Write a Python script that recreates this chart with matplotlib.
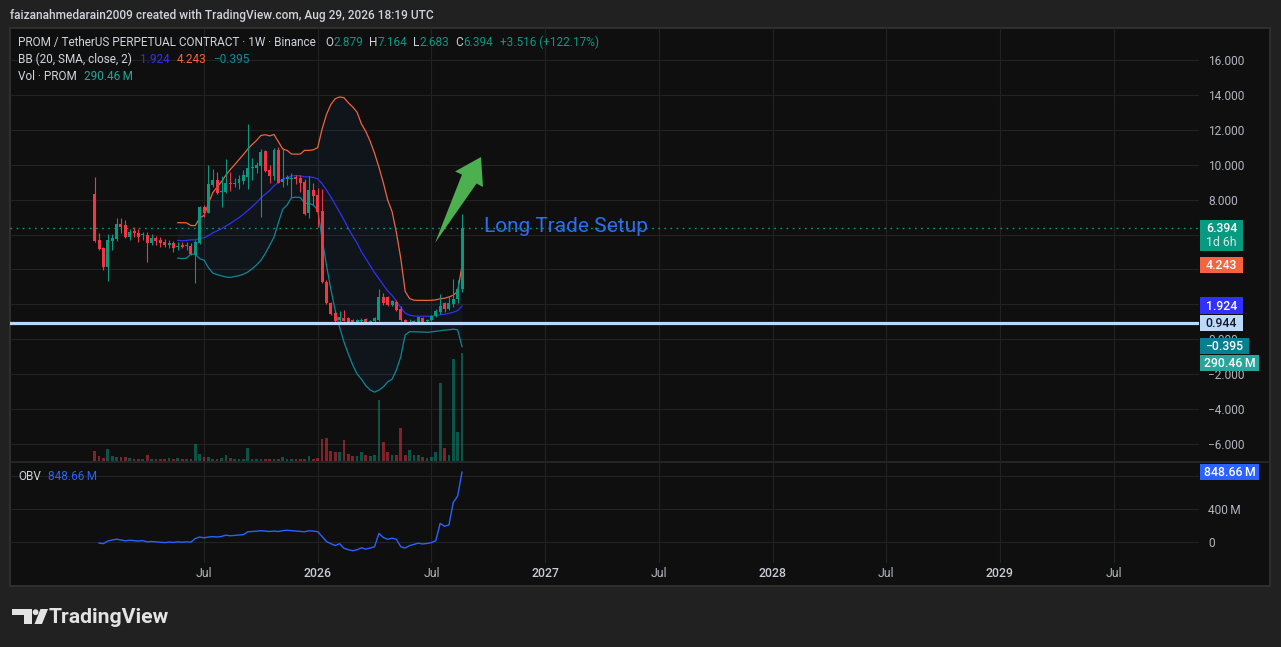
import numpy as np
import pandas as pd
import matplotlib
matplotlib.use("Agg")
import matplotlib.pyplot as plt
from matplotlib.patches import Rectangle, Polygon, Circle
from matplotlib.ticker import FuncFormatter

# ---------------- data (weekly bars, PROM/USDT perp, from 2025-01-13) ----------------
opens = [8.32, 5.68, 5.25, 4.16, 5.64, 5.76, 6.60, 6.54, 5.88, 6.18,
         6.07, 5.95, 5.97, 5.53, 5.82, 5.70, 5.57, 5.40, 5.53, 5.28,
         5.38, 5.32, 5.36, 4.83, 5.49, 7.59, 7.25, 8.83, 9.12, 8.44,
         8.46, 8.95, 8.90, 8.94, 9.08, 9.31, 9.83, 9.83, 9.93, 10.77,
         9.70, 9.35, 10.84, 9.03, 9.16, 9.16, 9.28, 9.22, 9.01, 7.21,
         8.55, 8.26, 7.35, 3.30, 2.09, 1.52, 1.10, 1.20, 1.24, 1.10,
         0.97, 1.05, 1.14, 0.91, 1.04, 1.10, 2.44, 2.40, 1.96, 2.15,
         1.71, 1.10, 0.95, 0.97, 1.00, 1.20, 1.02, 1.10, 1.33, 1.55,
         2.05, 1.75, 2.00, 2.30, 2.879]
highs = [9.28, 6.07, 5.30, 6.03, 6.03, 6.96, 6.93, 6.83, 6.30, 6.41,
         6.30, 6.13, 6.16, 6.03, 5.93, 5.88, 5.76, 5.68, 5.64, 5.59,
         5.59, 5.59, 5.49, 5.68, 7.63, 7.69, 9.98, 9.75, 9.60, 9.35,
         10.31, 9.60, 9.22, 9.41, 9.70, 12.33, 10.37, 10.17, 10.88, 10.84,
         9.98, 10.94, 11.03, 10.94, 9.41, 9.51, 9.41, 9.41, 9.16, 9.35,
         8.94, 8.65, 8.59, 3.40, 2.15, 1.60, 1.63, 1.67, 1.30, 1.18,
         1.18, 1.22, 1.20, 1.10, 1.25, 2.88, 2.62, 2.45, 2.22, 2.25,
         1.89, 1.16, 1.15, 1.10, 1.28, 1.26, 1.15, 1.40, 1.75, 2.57,
         2.15, 2.45, 3.45, 3.40, 7.164]
lows = [5.55, 5.10, 3.98, 3.35, 5.11, 5.64, 6.07, 5.78, 5.68, 5.88,
        5.57, 5.68, 4.42, 5.40, 5.40, 5.30, 5.30, 5.23, 5.02, 5.11,
        5.21, 5.11, 4.84, 3.20, 5.46, 7.02, 7.21, 8.74, 8.32, 7.59,
        8.36, 8.51, 8.74, 8.61, 8.89, 8.59, 9.12, 9.51, 7.02, 9.60,
        8.94, 9.12, 8.94, 8.74, 8.83, 8.17, 8.89, 8.46, 7.12, 6.93,
        7.69, 6.45, 3.24, 2.00, 1.40, 1.00, 0.91, 1.02, 0.98, 0.92,
        0.90, 0.95, 0.92, 0.88, 1.00, 1.05, 1.98, 1.88, 1.90, 1.62,
        1.05, 0.92, 0.80, 0.92, 0.95, 0.97, 0.98, 1.05, 1.25, 1.45,
        1.55, 1.70, 1.85, 2.05, 2.683]
closes = [5.63, 5.15, 4.12, 5.68, 5.82, 6.58, 6.45, 5.84, 6.13, 6.07,
          5.88, 6.01, 5.53, 5.78, 5.64, 5.49, 5.38, 5.49, 5.23, 5.36,
          5.30, 5.38, 4.86, 5.59, 7.59, 7.21, 8.87, 9.12, 8.40, 8.51,
          8.94, 8.88, 8.95, 9.16, 9.41, 9.79, 9.89, 9.98, 10.75, 9.66,
          9.35, 10.84, 8.97, 9.16, 9.28, 9.26, 9.16, 8.97, 7.17, 8.55,
          8.21, 7.31, 3.30, 2.06, 1.44, 1.06, 1.25, 1.06, 1.01, 0.95,
          1.10, 1.12, 0.95, 1.06, 1.20, 2.44, 2.05, 1.94, 2.19, 1.67,
          1.10, 0.95, 1.00, 1.06, 1.26, 1.00, 1.08, 1.35, 1.60, 1.90,
          1.75, 2.06, 2.30, 2.879, 6.394]
volumes_m = [26, 12.5, 7, 31, 12.5, 10, 10, 10, 7, 4.5,
             4.5, 4.5, 15, 4.5, 4.5, 4.5, 4.5, 7, 4.5, 7,
             4.5, 4.5, 4.5, 45, 18, 10, 10, 4.5, 4.5, 7,
             15, 7, 4.5, 4.5, 4.5, 34, 4.5, 4.5, 4.5, 4.5,
             4.5, 4.5, 4.5, 10, 4.5, 4.5, 4.5, 4.5, 4.5, 12.5,
             4.5, 7, 58, 61, 26, 23, 23, 55.6, 18, 12.5,
             12.5, 23, 15, 12.5, 15, 163, 50, 23, 15, 15,
             90, 15, 29, 15, 15, 10, 7, 10, 23, 210,
             35, 15, 274, 78, 290.46]

# time axis: bar index of first weekly bar in each labelled month
time_tick_idx = [25, 51, 77, 103, 129, 155, 181, 207, 233]
time_tick_labels = ["Jul", "2026", "Jul", "2027", "Jul", "2028", "Jul", "2029", "Jul"]
price_ticks = [16, 14, 12, 10, 8, 6, 4, 2, 0, -2, -4, -6]
price_ticks_hidden = [6, 4, 2]          # covered by the value labels on the scale
obv_ticks = [0, 400, 800]
obv_tick_labels = ["0", "400\u2009M", ""]
support_level = 0.944
bb_length, bb_mult = 20, 2

# header / legend texts (values as shown by the chart)
title_text = "faizanahmedarain2009 created with TradingView.com, Aug 29, 2026 18:19 UTC"
symbol_text = "PROM / TetherUS PERPETUAL CONTRACT \u00b7 1W \u00b7 Binance"
ohlc_text = [("O", "2.879"), ("H", "7.164"), ("L", "2.683"), ("C", "6.394")]
change_text = "+3.516 (+122.17%)"
bb_text = "BB (20, SMA, close, 2)"
bb_values = ["1.924", "4.243", "\u22120.395"]
bb_levels = [1.924, 4.243, -0.395]
vol_text = "Vol \u00b7 PROM"
vol_value = "290.46\u2009M"
obv_text = "OBV"
obv_value = "848.66\u2009M"
countdown = "1d 6h"
setup_text = "Long Trade Setup"

# ---------------- style ----------------
plt.rcParams["font.family"] = ["Roboto", "DejaVu Sans"]
UP, DOWN = "#089981", "#f23645"
C_BASIS, C_UPPER, C_LOWER = "#3131f2", "#f0643a", "#0c8796"
TXT = "#d1d4dc"
AX_TXT = "#b2b5be"
GRID = "#222222"
W, H = 1281, 647

fig = plt.figure(figsize=(W / 100, H / 100), dpi=100, facecolor="#212121")
renderer = fig.canvas.get_renderer()


def px_axes(x0, y0, x1, y1, z):
    return fig.add_axes([x0 / W, 1 - y1 / H, (x1 - x0) / W, (y1 - y0) / H], zorder=z)


# background canvas
bg = px_axes(0, 0, W, H, -10)
bg.set_xlim(0, W); bg.set_ylim(H, 0); bg.axis("off")
bg.add_patch(Rectangle((10, 28), 1260, 558, fc="#0f0f0f", ec="#343434", lw=1.2))
bg.plot([10, 1270], [461.5, 461.5], color="#2a2a2a", lw=1.2)

PX_PER_BAR = 4.373
X0_PX = 94.7           # pixel of bar 0
PLOT_L, PLOT_R = 10, 1199
xlim = ((PLOT_L - X0_PX) / PX_PER_BAR, (PLOT_R - X0_PX) / PX_PER_BAR)

o = np.array(opens); hi = np.array(highs); lo = np.array(lows); c = np.array(closes)
vol = np.array(volumes_m)
idx = np.arange(len(c))
up = c >= o
cols = np.where(up, UP, DOWN)

# ---------------- main price pane ----------------
ax = px_axes(PLOT_L, 28, PLOT_R, 461, 1)
ax.patch.set_alpha(0)
ax.set_xlim(*xlim)
ppu = 17.45  # pixels per price unit
ax.set_ylim(16 - (461 - 60) / ppu, 16 + (60 - 28) / ppu)
for s in ax.spines.values():
    s.set_visible(False)
ax.set_yticks(price_ticks)
ax.yaxis.tick_right()


def price_fmt(v, p):
    if any(abs(v - hv) < 1e-9 for hv in price_ticks_hidden):
        return ""
    return f"{v:.3f}".replace("-", "\u2212")


ax.yaxis.set_major_formatter(FuncFormatter(price_fmt))
ax.tick_params(axis="y", length=0, pad=6.5, labelsize=8.6, labelcolor=AX_TXT)
ax.set_xticks(time_tick_idx)
ax.tick_params(axis="x", length=0, labelbottom=False)
ax.grid(True, color=GRID, lw=0.8)
ax.set_axisbelow(True)

# Bollinger bands (SMA 20, 2 std, population)
s = pd.Series(c)
basis = s.rolling(bb_length).mean().to_numpy()
dev = s.rolling(bb_length).std(ddof=0).to_numpy()
upper = basis + bb_mult * dev
lower = basis - bb_mult * dev
ok = ~np.isnan(basis)
ax.fill_between(idx[ok], lower[ok], upper[ok], color="#2196f3", alpha=0.05, lw=0, zorder=1)
ax.plot(idx[ok], upper[ok], color=C_UPPER, lw=0.9, zorder=2)
ax.plot(idx[ok], lower[ok], color=C_LOWER, lw=0.9, zorder=2)
ax.plot(idx[ok], basis[ok], color=C_BASIS, lw=0.9, zorder=2)

# candles
ax.vlines(idx, lo, hi, colors=cols, lw=0.8, zorder=3)
body_lo = np.minimum(o, c)
body_h = np.maximum(np.abs(c - o), 0.06)
ax.bar(idx, body_h, bottom=body_lo, width=0.68, color=cols, lw=0, zorder=4)

# price line and support line
ax.axhline(c[-1], color=UP, lw=1.0, ls=(0, (1.2, 3.2)), zorder=2)
ax.axhline(support_level, color="#bbd9fb", lw=2.3, zorder=5)

# ---------------- volume overlay ----------------
axv = px_axes(PLOT_L, 28, PLOT_R, 461, 2)
axv.patch.set_alpha(0)
axv.set_xlim(*xlim)
axv.set_ylim(0, (461 - 28) / 0.372)
axv.axis("off")
axv.bar(idx, vol, width=0.62, color=cols, alpha=0.5, lw=0)

# ---------------- OBV pane ----------------
axo = px_axes(PLOT_L, 462, PLOT_R, 563, 1)
axo.patch.set_alpha(0)
axo.set_xlim(*xlim)
opx = 0.0825  # pixels per million
axo.set_ylim((542 - 563) / opx, (542 - 462) / opx)
for sp in axo.spines.values():
    sp.set_visible(False)
obv = np.concatenate([[np.nan], np.cumsum(np.sign(np.diff(c)) * vol[1:])])
axo.plot(idx, obv, color="#2962ff", lw=1.0)
axo.set_yticks(obv_ticks)
axo.set_yticklabels(obv_tick_labels)
axo.yaxis.tick_right()
axo.tick_params(axis="y", length=0, pad=6.5, labelsize=8.6, labelcolor=AX_TXT)
axo.set_xticks(time_tick_idx)
axo.set_xticklabels(time_tick_labels)
axo.tick_params(axis="x", length=0, pad=3.0, labelsize=8.8, labelcolor=AX_TXT)
for lab in axo.get_xticklabels():
    if lab.get_text().isdigit():
        lab.set_color("#c9ccd4")
        lab.set_fontweight("medium")
axo.grid(True, color=GRID, lw=0.8)
axo.set_axisbelow(True)

# ---------------- overlay: texts, labels, drawings ----------------
ov = px_axes(0, 0, W, H, 10)
ov.set_xlim(0, W); ov.set_ylim(H, 0); ov.axis("off")
ov.patch.set_alpha(0)


def ypx(axis, v):
    return H - axis.transData.transform((0, v))[1]


def put(x, y, text, color, fs):
    """place text left-aligned at pixel x; return pixel x of its right end"""
    t = ov.text(x, y, text, color=color, fontsize=fs, va="center", ha="left")
    bb = t.get_window_extent(renderer)
    return bb.x1


ov.text(10, 15, title_text, color=TXT, fontsize=8.55, fontweight="medium", va="center", ha="left")

FS = 8.5
x = put(18, 42.5, symbol_text, TXT, FS)
x = 325
for lab, val in ohlc_text:
    x = put(x, 42.5, lab, TXT, FS) + 0.5
    x = put(x, 42.5, val, UP, FS) + 5.5
put(x + 2, 42.5, change_text, UP, FS)

x = put(18, 59.3, bb_text, TXT, FS) + 8
for val, col in zip(bb_values, [C_BASIS, "#f7633c", "#0e8ea0"]):
    x = put(x, 59.3, val, col, FS) + 7
x = put(18, 76, vol_text, TXT, FS) + 7
put(x, 76, vol_value, "#26a69a", FS)
x = put(18, 477, obv_text, TXT, FS) + 7
put(x, 477, obv_value, "#2962ff", FS)


def vbox(yc, text, fc, tc, w, h=16.4):
    ov.add_patch(Rectangle((1200, yc - h / 2), w, h, fc=fc, ec="none"))
    ov.text(1200 + w / 2, yc + 0.5, text, color=tc, fontsize=8.8, fontweight="medium",
            ha="center", va="center")


# last price box with countdown
yc = ypx(ax, c[-1])
ov.add_patch(Rectangle((1200, yc - 8), 43, 31, fc=UP, ec="none"))
ov.text(1221.5, yc + 0.5, f"{c[-1]:.3f}", color="white", fontsize=8.8, fontweight="medium",
        ha="center", va="center")
ov.text(1221.5, yc + 15, countdown, color="#cdebe5", fontsize=8.8, ha="center", va="center")

vbox(ypx(ax, bb_levels[1]), bb_values[1], "#f7633c", "white", 43)
vbox(ypx(ax, bb_levels[0]), bb_values[0], "#3030ff", "white", 43)
vbox(ypx(ax, support_level), f"{support_level:.3f}", "#bbd9fb", "#131722", 43)
y_low = ypx(ax, bb_levels[2])
vbox(y_low, bb_values[2], "#06808f", "white", 49)
vbox(y_low + 17, vol_value, "#26a69a", "white", 59)
vbox(ypx(axo, obv[-1]), obv_value, "#2962ff", "white", 59)

# long-setup arrow drawing and text
arrow = [(435, 243), (462, 174.5), (455, 171.5), (481, 157), (483, 187), (476.5, 183.5)]
ov.add_patch(Polygon(arrow, closed=True, fc="#4caf50", ec="none"))
ov.text(484, 227, setup_text, color="#2f6cf2", fontsize=15.0, va="center", ha="left")

# TradingView logo
LOGO = "#e3e3e3"
ov.add_patch(Rectangle((12.3, 609), 19.4, 6, fc=LOGO, ec="none"))
ov.add_patch(Rectangle((23.5, 609), 8.2, 15, fc=LOGO, ec="none"))
ov.add_patch(Circle((35.6, 612.2), 2.9, fc=LOGO, ec="none"))
ov.add_patch(Polygon([(34.5, 624), (40.5, 609), (48.0, 609), (42.0, 624)], closed=True,
                     fc=LOGO, ec="none"))
ov.text(49, 617.5, "TradingView", color=LOGO, fontsize=15.3, fontweight="bold",
        va="center", ha="left")

fig.savefig("out.png", dpi=100, facecolor=fig.get_facecolor())
